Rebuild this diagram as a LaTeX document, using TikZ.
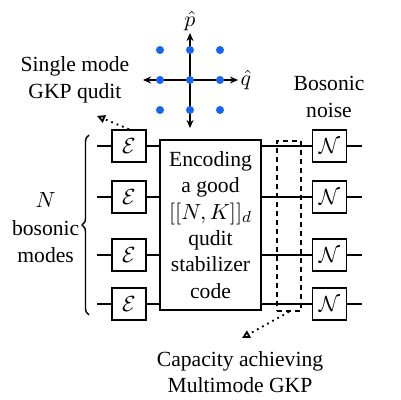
\documentclass[tikz,border=0pt]{standalone}
\usepackage{fontspec}
\setmainfont{Liberation Serif}
\usetikzlibrary{arrows.meta,decorations.pathreplacing}
\definecolor{gkpblue}{RGB}{20,102,245}

\begin{document}
\begin{tikzpicture}[x=0.5pt, y=-0.5pt, line width=0.8pt,
    font=\fontsize{10.8}{13.2}\selectfont,
    gate/.style={draw, minimum width=17pt, minimum height=16pt, inner sep=0pt},
    wire/.style={line width=0.9pt},
    pointer/.style={dotted, line width=0.9pt, -{Triangle[open, length=4pt, width=4pt]}},
    axis/.style={line width=0.7pt, {Stealth[length=4pt, width=3.5pt]}-{Stealth[length=4pt, width=3.5pt]}}]

  \useasboundingbox (0,0) rectangle (401,400);

  % Phase space of one mode with the GKP lattice
  \draw[axis] (190,128) -- (190,33) node[above, inner sep=1pt] (phat) {$\hat{p}$};
  \draw[axis] (143,80) -- (238,80) node[right, inner sep=1pt] (qhat) {$\hat{q}$};
  \foreach \px in {160,190,220}
    \foreach \py in {50,80,110}
      \fill[gkpblue] (\px,\py) circle (2pt);

  % Encoding gates and noise channels, one row per mode
  \node[draw, minimum width=50.5pt, minimum height=85pt, align=center] (enc) at (210.5,225)
    {Encoding\\a good\\$[[N,K]]_d$\\qudit\\stabilizer\\code};
  \foreach \r/\ry in {1/146,2/197,3/255,4/304} {
    \coordinate (in\r) at (97,\ry);
    \coordinate (out\r) at (362,\ry);
    \node[gate] (E\r) at (129,\ry) {$\mathcal{E}$};
    \node[gate] (N\r) at (329.5,\ry) {$\mathcal{N}$};
    \draw[wire] (in\r) -- (E\r.west);
    \draw[wire] (E\r.east) -- (E\r.east -| enc.west);
    \draw[wire] (enc.east |- N\r.west) -- (N\r.west);
    \draw[wire] (N\r.east) -- (out\r);
  }

  % Multimode GKP code
  \node[draw, dash pattern=on 2.5pt off 2pt, minimum width=12pt, minimum height=85pt,
    inner sep=0pt] (mmgkp) at (289,226) {};

  % Labels
  \node[align=center] (gkplabel) at (75,80) {Single mode\\GKP qudit};
  \coordinate (gkptip) at (97,116);
  \draw[pointer] (E1.north) -- (gkptip);

  \node[align=center] (noise) at (329,97) {Bosonic\\noise};

  \node[align=center] (caplabel) at (240,372) {Capacity achieving\\Multimode GKP};
  \coordinate (captip) at (242,338);
  \draw[pointer] (mmgkp.south) -- (captip);

  % Modes brace
  \draw[line width=0.7pt, decorate, decoration={brace, amplitude=3.5pt}] (89,315) -- (89,135);
  \node[left, align=center, inner sep=1pt] (modes) at (82,228) {$N$\\[0.5pt]bosonic\\[0.5pt]modes};
\end{tikzpicture}
\end{document}
